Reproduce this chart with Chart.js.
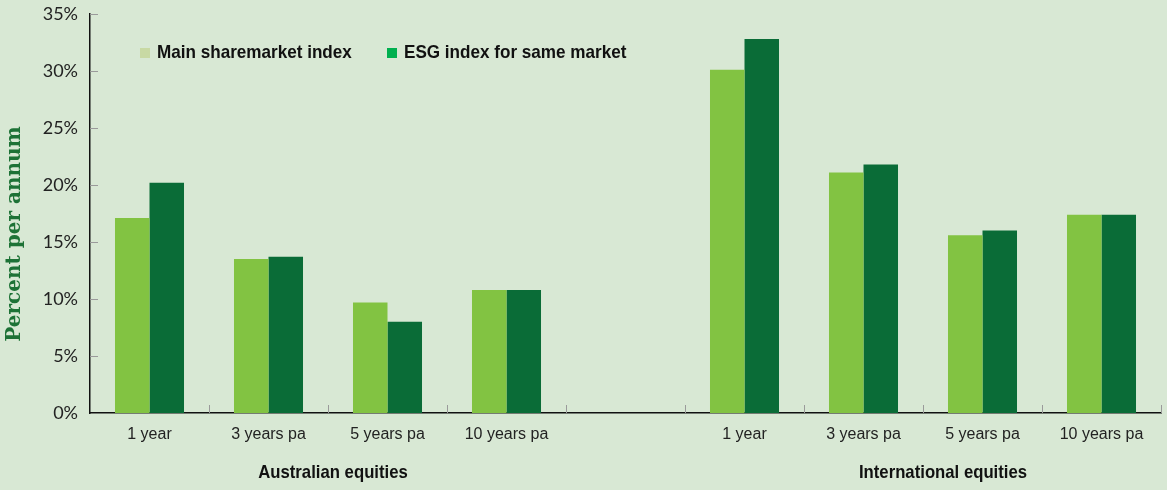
<!DOCTYPE html>
<html>
<head>
<meta charset="utf-8">
<script src="https://cdn.jsdelivr.net/npm/chart.js@4.4.0/dist/chart.umd.min.js"></script>
<style>
  body { margin: 0; background: #d8e8d4; }
  #wrap { width: 1167px; height: 490px; position: relative; }
</style>
</head>
<body>
<div id="wrap"><canvas id="chart"></canvas></div>
<script>
// categories (blank slot separates the two groups)
const categories = ['1 year', '3 years pa', '5 years pa', '10 years pa', '', '1 year', '3 years pa', '5 years pa', '10 years pa'];
const groups = ['Australian equities', 'International equities'];
const mainIndex = [17.1, 13.5, 9.7, 10.8, null, 30.1, 21.1, 15.6, 17.4];
const esgIndex  = [20.2, 13.7, 8.0, 10.8, null, 32.8, 21.8, 16.0, 17.4];
const yTicks = [0, 5, 10, 15, 20, 25, 30, 35];

const barColors = ['#82c342', '#0a6c37'];
const legendColors = ['#c8d9a4', '#00b04f'];

const narrow = "'Liberation Sans Narrow', 'Liberation Sans', sans-serif";

// draws text squeezed horizontally, like the condensed face in the original
function condensedText(ctx, text, x, y, sx) {
  ctx.save();
  ctx.translate(x, y);
  ctx.scale(sx, 1);
  ctx.fillText(text, 0, 0);
  ctx.restore();
}

// inward tick marks, y title, legend and group labels
const extras = {
  id: 'extras',
  afterDraw(chart) {
    const ctx = chart.ctx;
    const x = chart.scales.x, y = chart.scales.y;
    const area = chart.chartArea;
    ctx.save();
    ctx.strokeStyle = '#9a9a9a';
    ctx.lineWidth = 1;
    yTicks.forEach(v => {
      if (v === 0) return;
      const py = Math.round(y.getPixelForValue(v)) + 0.5;
      ctx.beginPath();
      ctx.moveTo(area.left, py);
      ctx.lineTo(area.left + 8, py);
      ctx.stroke();
    });
    const step = (area.right - area.left) / categories.length;
    for (let i = 1; i <= categories.length; i++) {
      const px = Math.round(area.left + i * step) + 0.5;
      ctx.beginPath();
      ctx.moveTo(px, area.bottom);
      ctx.lineTo(px, area.bottom - 8);
      ctx.stroke();
    }

    // y title
    ctx.translate(15, 234);
    ctx.rotate(-Math.PI / 2);
    ctx.fillStyle = '#1d7236';
    ctx.font = "bold 20px 'DejaVu Serif', serif";
    ctx.textAlign = 'center';
    ctx.textBaseline = 'middle';
    ctx.fillText('Percent per annum', 0, 0);
    ctx.setTransform(1, 0, 0, 1, 0, 0);

    // legend
    const legX = [140, 387];
    chart.data.datasets.forEach((ds, i) => {
      ctx.fillStyle = legendColors[i];
      ctx.fillRect(legX[i], 48, 10, 10);
      ctx.fillStyle = '#111';
      ctx.font = 'bold 19px ' + narrow;
      ctx.textAlign = 'left';
      ctx.textBaseline = 'middle';
      condensedText(ctx, ds.label, legX[i] + 17, 53, 0.9);
    });

    // group labels
    ctx.font = 'bold 19px ' + narrow;
    ctx.textAlign = 'center';
    ctx.fillStyle = '#111';
    condensedText(ctx, groups[0], x.getPixelForValue(1.5) + 5, 473, 0.88);
    condensedText(ctx, groups[1], x.getPixelForValue(6.5) + 20, 473, 0.88);
    ctx.restore();
  }
};

new Chart(document.getElementById('chart'), {
  type: 'bar',
  data: {
    labels: categories,
    datasets: [
      { label: 'Main sharemarket index', data: mainIndex, backgroundColor: barColors[0] },
      { label: 'ESG index for same market', data: esgIndex, backgroundColor: barColors[1] }
    ]
  },
  options: {
    responsive: true,
    maintainAspectRatio: false,
    animation: false,
    categoryPercentage: 0.58,
    barPercentage: 1.0,
    layout: { padding: { top: 14, right: 6, left: 0, bottom: 0 } },
    plugins: { legend: { display: false }, tooltip: { enabled: false } },
    scales: {
      x: {
        grid: { display: false, drawTicks: false },
        border: { display: true, color: '#111', width: 1.5 },
        ticks: { color: '#222', font: { family: narrow, size: 16 }, padding: 12, maxRotation: 0 },
        afterFit(scale) { scale.height = 77; }
      },
      y: {
        min: 0, max: 35,
        grid: { display: false, drawTicks: false },
        border: { display: true, color: '#111', width: 1.5 },
        ticks: {
          stepSize: 5, padding: 12, color: '#222',
          font: { family: 'Lato, sans-serif', size: 18, lineHeight: 0.2 },
          callback: v => v + '%'
        },
        afterFit(scale) { scale.width = 90; }
      }
    }
  },
  plugins: [extras]
});
</script>
</body>
</html>
